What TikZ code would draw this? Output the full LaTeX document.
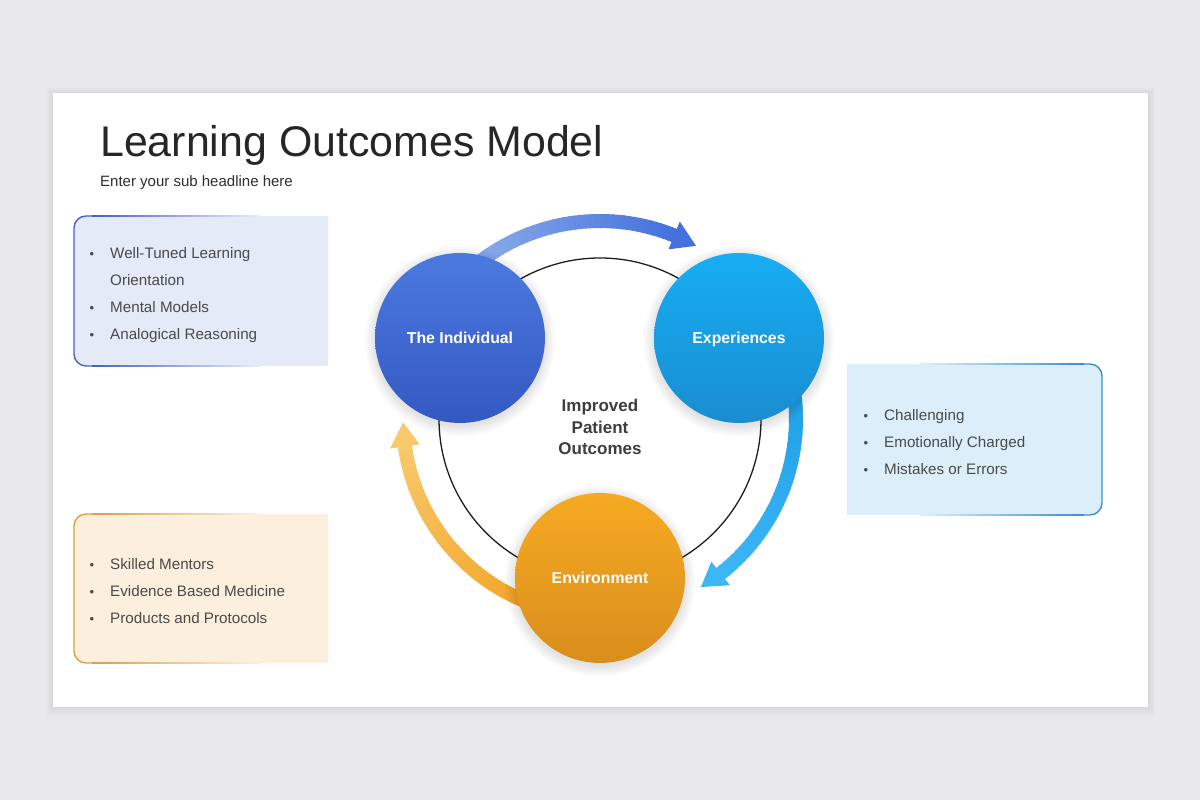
\documentclass[tikz,border=0pt]{standalone}
\usepackage{fontspec}
\setmainfont{Liberation Sans}
\usetikzlibrary{calc}
\definecolor{pagebg}{HTML}{E9E8EA}
\definecolor{titlec}{HTML}{262626}
\definecolor{subc}{HTML}{2E2E2E}
\definecolor{textc}{HTML}{4A4A4A}
\definecolor{centerc}{HTML}{3E3E3E}
\definecolor{ringc}{HTML}{1E1E1E}
\definecolor{indA}{HTML}{4B7ADF}
\definecolor{indB}{HTML}{3458C2}
\definecolor{expA}{HTML}{17ADF3}
\definecolor{expB}{HTML}{1A8DD0}
\definecolor{envA}{HTML}{F6AA22}
\definecolor{envB}{HTML}{D98E1C}
\definecolor{topA}{HTML}{8DAEEA}
\definecolor{topB}{HTML}{4471DC}
\definecolor{rgtA}{HTML}{1F9FE6}
\definecolor{rgtB}{HTML}{3DB6F6}
\definecolor{lftA}{HTML}{F3A425}
\definecolor{lftB}{HTML}{F8C86C}
\definecolor{boxAfill}{HTML}{E5EAF8}
\definecolor{boxAline}{HTML}{4565C0}
\definecolor{boxBfill}{HTML}{FCEFDD}
\definecolor{boxBline}{HTML}{D6A24A}
\definecolor{boxCfill}{HTML}{DDEEFB}
\definecolor{boxCline}{HTML}{3E90CC}

\newcommand\gradArc[6]{%
  \foreach \i in {0,...,39}{%
    \pgfmathsetmacro\sa{#1+(#2-#1)*\i/40}%
    \pgfmathsetmacro\ea{#1+(#2-#1)*(\i+1.3)/40}%
    \pgfmathsetmacro\pc{100*\i/39}%
    \draw[line width=14pt, draw=#5!\pc!#4] ($(cen)+(\sa:#6)$) arc[start angle=\sa, end angle=\ea, radius=#6];
  }%
  \fill[#5] ($(cen)+(#2:#6-15)$) -- ($(cen)+(#3:#6)$) -- ($(cen)+(#2:#6+15)$) -- cycle;
}
\newcommand\fadeH[6]{%
  \foreach \i in {0,...,29}{%
    \pgfmathsetmacro\xa{#1+(#2-#1)*\i/30}%
    \pgfmathsetmacro\xb{#1+(#2-#1)*(\i+1)/30}%
    \pgfmathsetmacro\pc{100*\i/29}%
    \draw[line width=#6, draw=#5!\pc!#4] (\xa,#3) -- (\xb,#3);
  }%
}

\tikzset{
  bubble/.style={circle, minimum size=170pt, inner sep=0pt, text=white,
    text height=11.2pt, text depth=0pt,
    font=\bfseries\fontsize{15.8}{18}\selectfont},
  bul/.style={anchor=base, inner sep=0pt, text=textc, font=\fontsize{13}{15}\selectfont},
  itm/.style={anchor=base west, inner sep=0pt, text=textc, font=\fontsize{15.2}{18}\selectfont},
}

\begin{document}
\begin{tikzpicture}[x=1pt,y=1pt]
\useasboundingbox (0,0) rectangle (1200,800);
\fill[pagebg] (0,0) rectangle (1200,800);
% slide shadow
\foreach \k in {1,...,8}{\fill[black,opacity=0.006] (53-\k*0.9,93-\k*1.2) rectangle (1148+\k*0.9,707+\k*0.7);}
\fill[white] (53,93) rectangle (1148,707);

% title
\node[anchor=base west, inner sep=0pt, text=titlec, font=\fontsize{42.9}{50}\selectfont] (title) at (100,643) {Learning Outcomes Model};
\node[anchor=base west, inner sep=0pt, text=subc, font=\fontsize{15}{18}\selectfont] (sub) at (100,613) {Enter your sub headline here};

% ---- box A (top left)
\fill[boxAfill] (328,584) -- (86,584) arc[start angle=90,end angle=180,radius=12] -- (74,446) arc[start angle=180,end angle=270,radius=12] -- (328,434) -- cycle;
\draw[boxAline, line width=1.4pt] (92,584) -- (86,584) arc[start angle=90,end angle=180,radius=12] -- (74,446) arc[start angle=180,end angle=270,radius=12] -- (92,434);
\fadeH{92}{260}{584}{boxAline}{boxAfill}{1.4pt}
\fadeH{92}{260}{434}{boxAline}{boxAfill}{1.4pt}
\node[bul] (a1b) at (92,541.8) {•};
\node[itm] (a1) at (110,541) {Well-Tuned Learning};
\node[itm] (a1c) at (110,514) {Orientation};
\node[bul] (a2b) at (92,487.8) {•};
\node[itm] (a2) at (110,487) {Mental Models};
\node[bul] (a3b) at (92,460.8) {•};
\node[itm] (a3) at (110,460) {Analogical Reasoning};

% ---- box B (bottom left)
\fill[boxBfill] (328,286) -- (86,286) arc[start angle=90,end angle=180,radius=12] -- (74,149) arc[start angle=180,end angle=270,radius=12] -- (328,137) -- cycle;
\draw[boxBline, line width=1.4pt] (92,286) -- (86,286) arc[start angle=90,end angle=180,radius=12] -- (74,149) arc[start angle=180,end angle=270,radius=12] -- (92,137);
\fadeH{92}{260}{286}{boxBline}{boxBfill}{1.4pt}
\fadeH{92}{260}{137}{boxBline}{boxBfill}{1.4pt}
\node[bul] (b1b) at (92,230.8) {•};
\node[itm] (b1) at (110,230) {Skilled Mentors};
\node[bul] (b2b) at (92,203.8) {•};
\node[itm] (b2) at (110,203) {Evidence Based Medicine};
\node[bul] (b3b) at (92,176.8) {•};
\node[itm] (b3) at (110,176) {Products and Protocols};

% ---- box C (right)
\fill[boxCfill] (847,436) -- (1090,436) arc[start angle=90,end angle=0,radius=12] -- (1102,297) arc[start angle=0,end angle=-90,radius=12] -- (847,285) -- cycle;
\draw[boxCline, line width=1.4pt] (1084,436) -- (1090,436) arc[start angle=90,end angle=0,radius=12] -- (1102,297) arc[start angle=0,end angle=-90,radius=12] -- (1084,285);
\fadeH{1084}{920}{436}{boxCline}{boxCfill}{1.4pt}
\fadeH{1084}{920}{285}{boxCline}{boxCfill}{1.4pt}
\node[bul] (c1b) at (866,379.8) {•};
\node[itm] (c1) at (884,379) {Challenging};
\node[bul] (c2b) at (866,352.8) {•};
\node[itm] (c2) at (884,352) {Emotionally Charged};
\node[bul] (c3b) at (866,325.8) {•};
\node[itm] (c3) at (884,325) {Mistakes or Errors};

% ---- cycle
\coordinate (cen) at (600,381);
\gradArc{130}{68}{61}{topA}{topB}{198}
\gradArc{12}{-52}{-59}{rgtA}{rgtB}{196}
\gradArc{250}{188}{181}{lftA}{lftB}{197}
\draw[ringc, line width=1.3pt] (cen) circle[radius=161];
\node[anchor=center, align=center, inner sep=0pt, text=centerc, font=\bfseries\fontsize{17}{21.5}\selectfont] (core) at (600,373) {Improved\\Patient\\Outcomes};

% shadows
\foreach \p in {(460,462),(739,462),(600,222)}{
  \foreach \k in {1,...,7}{\fill[black,opacity=0.014] \p ++(0,-3) circle[radius=84+\k*1.6];}
}
\node[bubble, top color=indA, bottom color=indB] (ind) at (460,462) {The Individual};
\node[bubble, top color=expA, bottom color=expB] (exp) at (739,462) {Experiences};
\node[bubble, top color=envA, bottom color=envB] (env) at (600,222) {Environment};
\end{tikzpicture}
\end{document}
